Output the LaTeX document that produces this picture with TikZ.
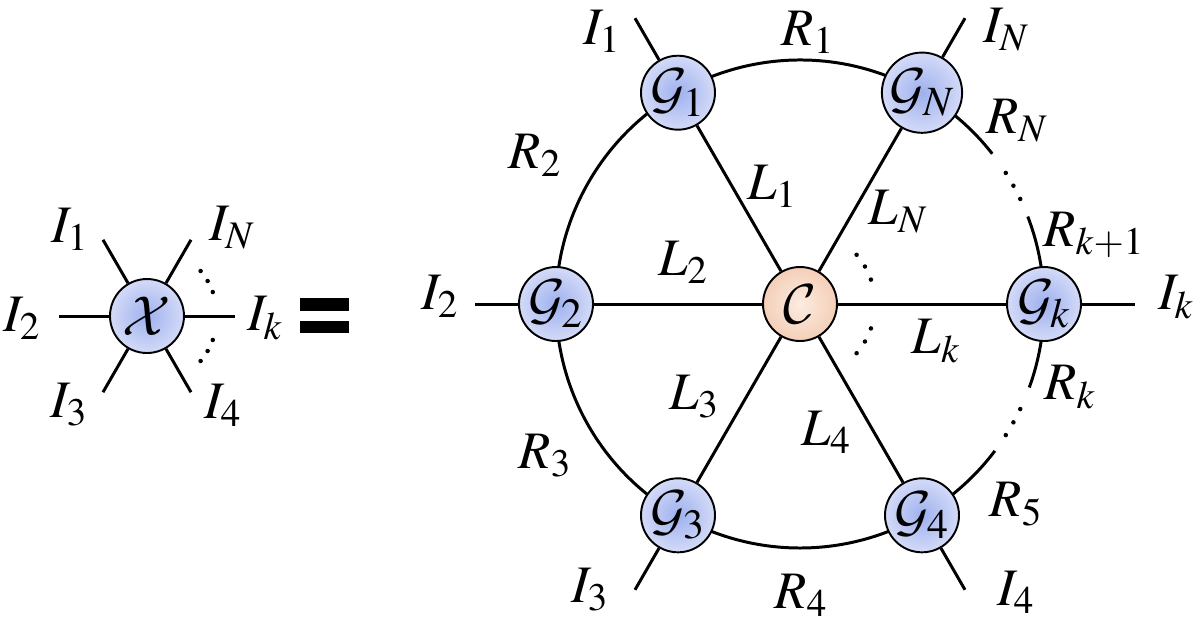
\RequirePackage{fix-cm}
\documentclass[tikz,border=0pt]{standalone}
\usepackage{amsmath}
\usepackage{mathptmx}
\DeclareMathAlphabet{\mathcal}{OMS}{cmsy}{m}{n}
\pgfdeclarelayer{background}
\pgfsetlayers{background,main}
\definecolor{gin}{RGB}{158,176,238}
\definecolor{gout}{RGB}{212,219,248}
\definecolor{cin}{RGB}{252,236,224}
\definecolor{cout}{RGB}{244,207,184}
\tikzset{
  gnode/.style={circle, draw, line width=1.1pt, minimum size=1.48cm, inner sep=0pt,
    shading=radial, inner color=gin, outer color=gout, font=\fontsize{32}{36}\selectfont},
  cnode/.style={gnode, inner color=cin, outer color=cout},
  lbl/.style={inner sep=0pt, font=\fontsize{30}{34}\selectfont},
  leg/.style={line width=1.7pt},
}

\begin{document}
\begin{tikzpicture}

\useasboundingbox (-16,-6.52) rectangle (8,6.08);

% left tensor X
\node[gnode] (X) at (-13.06,-0.24) {$\mathcal{X}$};
\coordinate (x1) at ([shift={(120:1.76)}]X.center);
\coordinate (xN) at ([shift={(60:1.76)}]X.center);
\coordinate (x2) at ([shift={(180:1.76)}]X.center);
\coordinate (xk) at ([shift={(0:1.76)}]X.center);
\coordinate (x3) at ([shift={(240:1.76)}]X.center);
\coordinate (x4) at ([shift={(300:1.76)}]X.center);
\draw[leg] (X) -- (x1);
\draw[leg] (X) -- (xN);
\draw[leg] (X) -- (x2);
\draw[leg] (X) -- (xk);
\draw[leg] (X) -- (x3);
\draw[leg] (X) -- (x4);
\foreach \a in {20,30,40,-20,-30,-40}
  \fill ([shift={(\a:1.4)}]X.center) circle (0.045);

\node[lbl] (lx1) at (-14.6,1.5) {$I_1$};
\node[lbl] (lxN) at (-11.36,1.52) {$I_N$};
\node[lbl] (lx2) at (-15.56,-0.28) {$I_2$};
\node[lbl] (lxk) at (-10.7,-0.28) {$I_k$};
\node[lbl] (lx3) at (-14.62,-2.02) {$I_3$};
\node[lbl] (lx4) at (-11.54,-2.02) {$I_4$};

% equals sign
\fill (-10.0,0.12) rectangle (-9.02,-0.14);
\fill (-10.0,-0.34) rectangle (-9.02,-0.58);

% ring network
\node[cnode] (C) at (0,0) {$\mathcal{C}$};
\node[gnode] (G1) at (120:4.88) {$\mathcal{G}_1$};
\node[gnode] (GN) at (60:4.88) {$\mathcal{G}_N$};
\node[gnode] (G2) at (180:4.88) {$\mathcal{G}_2$};
\node[gnode] (Gk) at (0:4.88) {$\mathcal{G}_k$};
\node[gnode] (G3) at (240:4.88) {$\mathcal{G}_3$};
\node[gnode] (G4) at (300:4.88) {$\mathcal{G}_4$};

\coordinate (e1) at (120:6.6);
\coordinate (eN) at (60:6.6);
\coordinate (e2) at (180:6.5);
\coordinate (ek) at (0:6.7);
\coordinate (e3) at (240:6.6);
\coordinate (e4) at (300:6.6);

\begin{pgfonlayer}{background}
\draw[leg] (GN.center) arc[start angle=60, end angle=300, radius=4.88];
\draw[leg] (GN.center) arc[start angle=60, end angle=38, radius=4.88];
\draw[leg] (Gk.center) arc[start angle=0, end angle=21, radius=4.88];
\draw[leg] (Gk.center) arc[start angle=0, end angle=-20, radius=4.88];
\draw[leg] (G4.center) arc[start angle=-60, end angle=-37, radius=4.88];
\end{pgfonlayer}

\draw[leg] (C) -- (G1);
\draw[leg] (C) -- (GN);
\draw[leg] (C) -- (G2);
\draw[leg] (C) -- (Gk);
\draw[leg] (C) -- (G3);
\draw[leg] (C) -- (G4);

\draw[leg] (G1) -- (e1);
\draw[leg] (GN) -- (eN);
\draw[leg] (G2) -- (e2);
\draw[leg] (Gk) -- (ek);
\draw[leg] (G3) -- (e3);
\draw[leg] (G4) -- (e4);

\foreach \a in {19,30,41,-19,-30,-41}
  \fill (\a:1.5) circle (0.045);
\foreach \a in {25.5,29,32.5,-25.5,-29,-32.5}
  \fill (\a:4.88) circle (0.045);

\node[lbl] (lI1) at (-3.96,5.46) {$I_1$};
\node[lbl] (lIN) at (4.12,5.48) {$I_N$};
\node[lbl] (lI2) at (-7.2,0.16) {$I_2$};
\node[lbl] (lIk) at (7.52,0.14) {$I_k$};
\node[lbl] (lI3) at (-4.2,-5.72) {$I_3$};
\node[lbl] (lI4) at (4.32,-5.76) {$I_4$};

\node[lbl] (lR1) at (0.16,5.44) {$R_1$};
\node[lbl] (lR2) at (-5.3,2.98) {$R_2$};
\node[lbl] (lRN) at (4.34,3.66) {$R_N$};
\node[lbl, anchor=west] (lRk1) at (4.86,1.38) {$R_{k+1}$};
\node[lbl] (lRk) at (5.4,-1.66) {$R_k$};
\node[lbl] (lR3) at (-5.1,-3.04) {$R_3$};
\node[lbl] (lR5) at (4.32,-4.0) {$R_5$};
\node[lbl] (lR4) at (0.02,-5.82) {$R_4$};

\node[lbl] (lL1) at (-0.56,2.36) {$L_1$};
\node[lbl] (lLN) at (1.96,1.84) {$L_N$};
\node[lbl] (lL2) at (-2.34,0.84) {$L_2$};
\node[lbl] (lLk) at (2.72,-0.74) {$L_k$};
\node[lbl] (lL3) at (-2.12,-1.86) {$L_3$};
\node[lbl] (lL4) at (0.52,-2.56) {$L_4$};

\end{tikzpicture}
\end{document}
